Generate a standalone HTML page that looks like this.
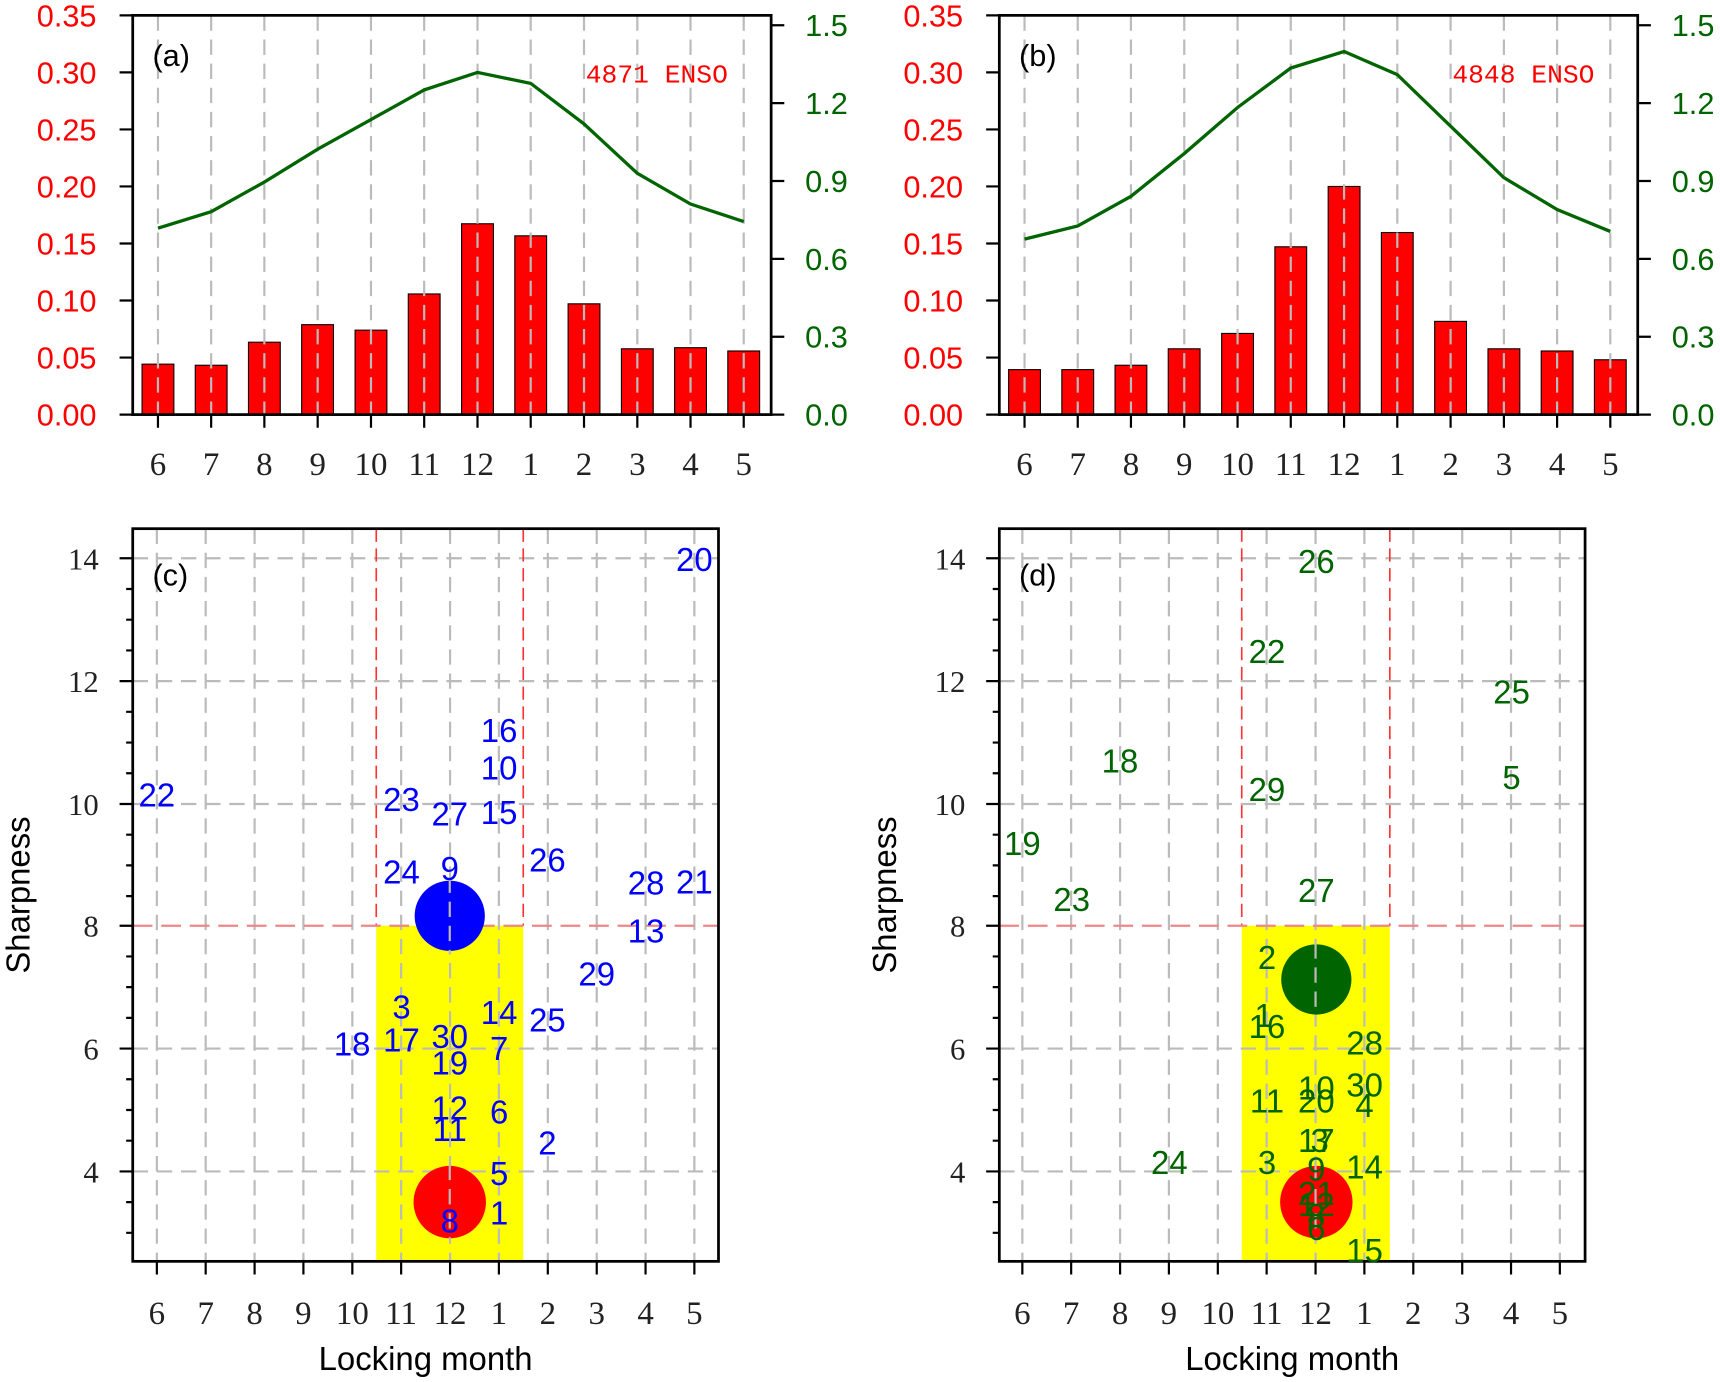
<!DOCTYPE html>
<html><head><meta charset="utf-8"><style>
html,body{margin:0;padding:0;background:#fff;}
svg{display:block;}
.r{fill:#f00;font-family:"Liberation Sans",sans-serif;font-size:28px;text-anchor:end;}
.g{fill:#006400;font-family:"Liberation Sans",sans-serif;font-size:28px;}
.m{fill:#222;font-family:"Liberation Serif",serif;font-size:30px;text-anchor:middle;}
.k{fill:#222;font-family:"Liberation Serif",serif;font-size:28px;text-anchor:end;}
.t{fill:#000;font-family:"Liberation Sans",sans-serif;font-size:28px;}
.en{fill:#f00;font-family:"Liberation Mono",monospace;font-size:24px;}
.bl{fill:#00f;font-family:"Liberation Sans",sans-serif;font-size:30px;text-anchor:middle;dominant-baseline:central;}
.gn{fill:#006400;font-family:"Liberation Sans",sans-serif;font-size:30px;text-anchor:middle;dominant-baseline:central;}
.ttl{fill:#000;font-family:"Liberation Sans",sans-serif;font-size:30px;text-anchor:middle;}
.grid{stroke:#bbb;stroke-width:2;stroke-dasharray:14,8;fill:none;}
.bar{fill:#f00;stroke:#000;stroke-width:1;}
</style></head><body>
<svg width="1720" height="1382" viewBox="0 0 1568 1260" preserveAspectRatio="none" xmlns="http://www.w3.org/2000/svg">
<!-- Panel a -->
<g>
<rect class="bar" x="129.5" y="332" width="29" height="46"/>
<rect class="bar" x="178" y="333" width="29" height="45"/>
<rect class="bar" x="226.5" y="312" width="29" height="66"/>
<rect class="bar" x="275" y="296" width="29" height="82"/>
<rect class="bar" x="323.7" y="301" width="29" height="77"/>
<rect class="bar" x="372.2" y="268" width="29" height="110"/>
<rect class="bar" x="420.8" y="204" width="29" height="174"/>
<rect class="bar" x="469.3" y="215" width="29" height="163"/>
<rect class="bar" x="517.9" y="277" width="29" height="101"/>
<rect class="bar" x="566.5" y="318" width="29" height="60"/>
<rect class="bar" x="615" y="317" width="29" height="61"/>
<rect class="bar" x="663.5" y="320" width="29" height="58"/>
<path class="grid" d="M144 14V378M192.5 14V378M241 14V378M289.6 14V378M338.2 14V378M386.7 14V378M435.3 14V378M483.8 14V378M532.4 14V378M581 14V378M629.5 14V378M678 14V378"/>
<polyline fill="none" stroke="#006400" stroke-width="3" points="144,208 192.5,193 241,166 289.6,136 338.2,109 386.7,82 435.3,66 483.8,76 532.4,113 581,158 629.5,186 678,202"/>
<rect x="121" y="14" width="582" height="364" fill="none" stroke="#000" stroke-width="2.5"/>
<path stroke="#000" stroke-width="2" d="M109 378H121M109 326H121M109 274H121M109 222H121M109 170H121M109 118H121M109 66H121M109 14H121M703 378H715M703 307H715M703 236H715M703 165H715M703 94H715M703 23H715M144 378V390M192.5 378V390M241 378V390M289.6 378V390M338.2 378V390M386.7 378V390M435.3 378V390M483.8 378V390M532.4 378V390M581 378V390M629.5 378V390M678 378V390"/>
<text class="r" x="88" y="388">0.00</text><text class="r" x="88" y="336">0.05</text><text class="r" x="88" y="284">0.10</text><text class="r" x="88" y="232">0.15</text><text class="r" x="88" y="180">0.20</text><text class="r" x="88" y="128">0.25</text><text class="r" x="88" y="76">0.30</text><text class="r" x="88" y="24">0.35</text>
<text class="g" x="734" y="388">0.0</text><text class="g" x="734" y="317">0.3</text><text class="g" x="734" y="246">0.6</text><text class="g" x="734" y="175">0.9</text><text class="g" x="734" y="104">1.2</text><text class="g" x="734" y="33">1.5</text>
<text class="m" x="144" y="433">6</text><text class="m" x="192.5" y="433">7</text><text class="m" x="241" y="433">8</text><text class="m" x="289.6" y="433">9</text><text class="m" x="338.2" y="433">10</text><text class="m" x="386.7" y="433">11</text><text class="m" x="435.3" y="433">12</text><text class="m" x="483.8" y="433">1</text><text class="m" x="532.4" y="433">2</text><text class="m" x="581" y="433">3</text><text class="m" x="629.5" y="433">4</text><text class="m" x="678" y="433">5</text>
<text class="t" x="139" y="60">(a)</text>
<text class="en" x="534" y="75">4871 ENSO</text>
</g>
<!-- Panel b -->
<g>
<rect class="bar" x="919.5" y="337" width="29" height="41"/>
<rect class="bar" x="968" y="337" width="29" height="41"/>
<rect class="bar" x="1016.5" y="333" width="29" height="45"/>
<rect class="bar" x="1065" y="318" width="29" height="60"/>
<rect class="bar" x="1113.7" y="304" width="29" height="74"/>
<rect class="bar" x="1162.2" y="225" width="29" height="153"/>
<rect class="bar" x="1210.8" y="170" width="29" height="208"/>
<rect class="bar" x="1259.3" y="212" width="29" height="166"/>
<rect class="bar" x="1307.9" y="293" width="29" height="85"/>
<rect class="bar" x="1356.5" y="318" width="29" height="60"/>
<rect class="bar" x="1405" y="320" width="29" height="58"/>
<rect class="bar" x="1453.5" y="328" width="29" height="50"/>
<path class="grid" d="M934 14V378M982.5 14V378M1031 14V378M1079.6 14V378M1128.2 14V378M1176.7 14V378M1225.3 14V378M1273.8 14V378M1322.4 14V378M1371 14V378M1419.5 14V378M1468 14V378"/>
<polyline fill="none" stroke="#006400" stroke-width="3" points="934,218 982.5,206 1031,179 1079.6,140 1128.2,98 1176.7,62 1225.3,47 1273.8,68 1322.4,115 1371,162 1419.5,191 1468,211"/>
<rect x="911" y="14" width="582" height="364" fill="none" stroke="#000" stroke-width="2.5"/>
<path stroke="#000" stroke-width="2" d="M899 378H911M899 326H911M899 274H911M899 222H911M899 170H911M899 118H911M899 66H911M899 14H911M1493 378H1505M1493 307H1505M1493 236H1505M1493 165H1505M1493 94H1505M1493 23H1505M934 378V390M982.5 378V390M1031 378V390M1079.6 378V390M1128.2 378V390M1176.7 378V390M1225.3 378V390M1273.8 378V390M1322.4 378V390M1371 378V390M1419.5 378V390M1468 378V390"/>
<text class="r" x="878" y="388">0.00</text><text class="r" x="878" y="336">0.05</text><text class="r" x="878" y="284">0.10</text><text class="r" x="878" y="232">0.15</text><text class="r" x="878" y="180">0.20</text><text class="r" x="878" y="128">0.25</text><text class="r" x="878" y="76">0.30</text><text class="r" x="878" y="24">0.35</text>
<text class="g" x="1524" y="388">0.0</text><text class="g" x="1524" y="317">0.3</text><text class="g" x="1524" y="246">0.6</text><text class="g" x="1524" y="175">0.9</text><text class="g" x="1524" y="104">1.2</text><text class="g" x="1524" y="33">1.5</text>
<text class="m" x="934" y="433">6</text><text class="m" x="982.5" y="433">7</text><text class="m" x="1031" y="433">8</text><text class="m" x="1079.6" y="433">9</text><text class="m" x="1128.2" y="433">10</text><text class="m" x="1176.7" y="433">11</text><text class="m" x="1225.3" y="433">12</text><text class="m" x="1273.8" y="433">1</text><text class="m" x="1322.4" y="433">2</text><text class="m" x="1371" y="433">3</text><text class="m" x="1419.5" y="433">4</text><text class="m" x="1468" y="433">5</text>
<text class="t" x="929" y="60">(b)</text>
<text class="en" x="1324" y="75">4848 ENSO</text>
</g>
<!-- Panel c -->
<g>
<rect x="343" y="844" width="134" height="306" fill="#ff0"/>
<path class="grid" d="M143 482V1150M187.5 482V1150M232.1 482V1150M276.6 482V1150M321.2 482V1150M365.7 482V1150M410.3 482V1150M454.8 482V1150M499.4 482V1150M544 482V1150M588.5 482V1150M633 482V1150M121 509H655M121 621H655M121 733H655M121 956H655M121 1068H655"/>
<path stroke="#f33" stroke-width="1.5" stroke-dasharray="12,6" d="M343 482V844M477 482V844"/>
<path stroke="#e88" stroke-width="2" stroke-dasharray="18,8" d="M121 844H655"/>
<circle cx="410" cy="835" r="32" fill="#00f"/>
<circle cx="410" cy="1096" r="33" fill="#f00"/>
<path stroke="#bbb" stroke-width="2" stroke-dasharray="14,8" d="M410 800V870M410 1062V1130"/>
<rect x="121" y="482" width="534" height="668" fill="none" stroke="#000" stroke-width="2.5"/>
<path stroke="#000" stroke-width="2" d="M109 509H121M109 621H121M109 733H121M109 844H121M109 956H121M109 1068H121M115 537H121M115 565H121M115 593H121M115 649H121M115 677H121M115 705H121M115 761H121M115 789H121M115 817H121M115 872H121M115 900H121M115 928H121M115 984H121M115 1012H121M115 1040H121M115 1096H121M115 1124H121M143 1150V1162M187.5 1150V1162M232.1 1150V1162M276.6 1150V1162M321.2 1150V1162M365.7 1150V1162M410.3 1150V1162M454.8 1150V1162M499.4 1150V1162M544 1150V1162M588.5 1150V1162M633 1150V1162"/>
<text class="k" x="90" y="519">14</text><text class="k" x="90" y="631">12</text><text class="k" x="90" y="743">10</text><text class="k" x="90" y="854">8</text><text class="k" x="90" y="966">6</text><text class="k" x="90" y="1078">4</text>
<text class="m" x="143" y="1207">6</text><text class="m" x="187.5" y="1207">7</text><text class="m" x="232.1" y="1207">8</text><text class="m" x="276.6" y="1207">9</text><text class="m" x="321.2" y="1207">10</text><text class="m" x="365.7" y="1207">11</text><text class="m" x="410.3" y="1207">12</text><text class="m" x="454.8" y="1207">1</text><text class="m" x="499.4" y="1207">2</text><text class="m" x="544" y="1207">3</text><text class="m" x="588.5" y="1207">4</text><text class="m" x="633" y="1207">5</text>
<text class="ttl" x="388" y="1249">Locking month</text>
<text class="ttl" transform="translate(27,816) rotate(-90)">Sharpness</text>
<text class="t" x="139" y="534">(c)</text>
<text class="bl" x="633" y="510">20</text><text class="bl" x="455" y="666">16</text><text class="bl" x="455" y="700">10</text><text class="bl" x="143" y="725">22</text><text class="bl" x="366" y="729">23</text><text class="bl" x="410" y="742">27</text><text class="bl" x="455" y="741">15</text><text class="bl" x="499" y="784">26</text><text class="bl" x="366" y="795">24</text><text class="bl" x="410" y="792">9</text><text class="bl" x="589" y="805">28</text><text class="bl" x="633" y="804">21</text><text class="bl" x="589" y="849">13</text><text class="bl" x="544" y="888">29</text><text class="bl" x="366" y="918">3</text><text class="bl" x="455" y="923">14</text><text class="bl" x="499" y="930">25</text><text class="bl" x="321" y="952">18</text><text class="bl" x="366" y="948">17</text><text class="bl" x="410" y="945">30</text><text class="bl" x="455" y="956">7</text><text class="bl" x="410" y="969">19</text><text class="bl" x="410" y="1010">12</text><text class="bl" x="455" y="1014">6</text><text class="bl" x="410" y="1030">11</text><text class="bl" x="499" y="1042">2</text><text class="bl" x="455" y="1070">5</text><text class="bl" x="455" y="1106">1</text><text class="bl" x="410" y="1113">8</text>
</g>
<!-- Panel d -->
<g>
<rect x="1132" y="844" width="135" height="306" fill="#ff0"/>
<path class="grid" d="M932 482V1150M976.5 482V1150M1021.1 482V1150M1065.6 482V1150M1110.2 482V1150M1154.7 482V1150M1199.3 482V1150M1243.8 482V1150M1288.4 482V1150M1333 482V1150M1377.5 482V1150M1422 482V1150M911 509H1445M911 621H1445M911 733H1445M911 956H1445M911 1068H1445"/>
<path stroke="#f33" stroke-width="1.5" stroke-dasharray="12,6" d="M1132 482V844M1267 482V844"/>
<path stroke="#e88" stroke-width="2" stroke-dasharray="18,8" d="M911 844H1445"/>
<circle cx="1200" cy="893" r="32" fill="#006400"/>
<circle cx="1200" cy="1096" r="33" fill="#f00"/>
<path stroke="#bbb" stroke-width="2" stroke-dasharray="14,8" d="M1199.3 860V930M1199.3 1062V1130"/>
<rect x="911" y="482" width="534" height="668" fill="none" stroke="#000" stroke-width="2.5"/>
<path stroke="#000" stroke-width="2" d="M899 509H911M899 621H911M899 733H911M899 844H911M899 956H911M899 1068H911M905 537H911M905 565H911M905 593H911M905 649H911M905 677H911M905 705H911M905 761H911M905 789H911M905 817H911M905 872H911M905 900H911M905 928H911M905 984H911M905 1012H911M905 1040H911M905 1096H911M905 1124H911M932 1150V1162M976.5 1150V1162M1021.1 1150V1162M1065.6 1150V1162M1110.2 1150V1162M1154.7 1150V1162M1199.3 1150V1162M1243.8 1150V1162M1288.4 1150V1162M1333 1150V1162M1377.5 1150V1162M1422 1150V1162"/>
<text class="k" x="880" y="519">14</text><text class="k" x="880" y="631">12</text><text class="k" x="880" y="743">10</text><text class="k" x="880" y="854">8</text><text class="k" x="880" y="966">6</text><text class="k" x="880" y="1078">4</text>
<text class="m" x="932" y="1207">6</text><text class="m" x="976.5" y="1207">7</text><text class="m" x="1021.1" y="1207">8</text><text class="m" x="1065.6" y="1207">9</text><text class="m" x="1110.2" y="1207">10</text><text class="m" x="1154.7" y="1207">11</text><text class="m" x="1199.3" y="1207">12</text><text class="m" x="1243.8" y="1207">1</text><text class="m" x="1288.4" y="1207">2</text><text class="m" x="1333" y="1207">3</text><text class="m" x="1377.5" y="1207">4</text><text class="m" x="1422" y="1207">5</text>
<text class="ttl" x="1178" y="1249">Locking month</text>
<text class="ttl" transform="translate(817,816) rotate(-90)">Sharpness</text>
<text class="t" x="929" y="534">(d)</text>
<text class="gn" x="1200" y="512">26</text><text class="gn" x="1155" y="594">22</text><text class="gn" x="1378" y="631">25</text><text class="gn" x="1021" y="694">18</text><text class="gn" x="1155" y="720">29</text><text class="gn" x="1378" y="709">5</text><text class="gn" x="932" y="769">19</text><text class="gn" x="977" y="820">23</text><text class="gn" x="1200" y="812">27</text><text class="gn" x="1155" y="873">2</text><text class="gn" x="1152" y="926">1</text><text class="gn" x="1155" y="936">16</text><text class="gn" x="1244" y="951">28</text><text class="gn" x="1200" y="992">10</text><text class="gn" x="1244" y="989">30</text><text class="gn" x="1155" y="1004">11</text><text class="gn" x="1200" y="1004">20</text><text class="gn" x="1244" y="1008">4</text><text class="gn" x="1200" y="1040">17</text><text class="gn" x="1203" y="1040">3</text><text class="gn" x="1155" y="1060">3</text><text class="gn" x="1200" y="1066">9</text><text class="gn" x="1066" y="1060">24</text><text class="gn" x="1244" y="1064">14</text><text class="gn" x="1200" y="1088">21</text><text class="gn" x="1200" y="1098">12</text><text class="gn" x="1200" y="1108">8</text><text class="gn" x="1200" y="1120">6</text><text class="gn" x="1244" y="1140">15</text>
</g>
</svg>
</body></html>
